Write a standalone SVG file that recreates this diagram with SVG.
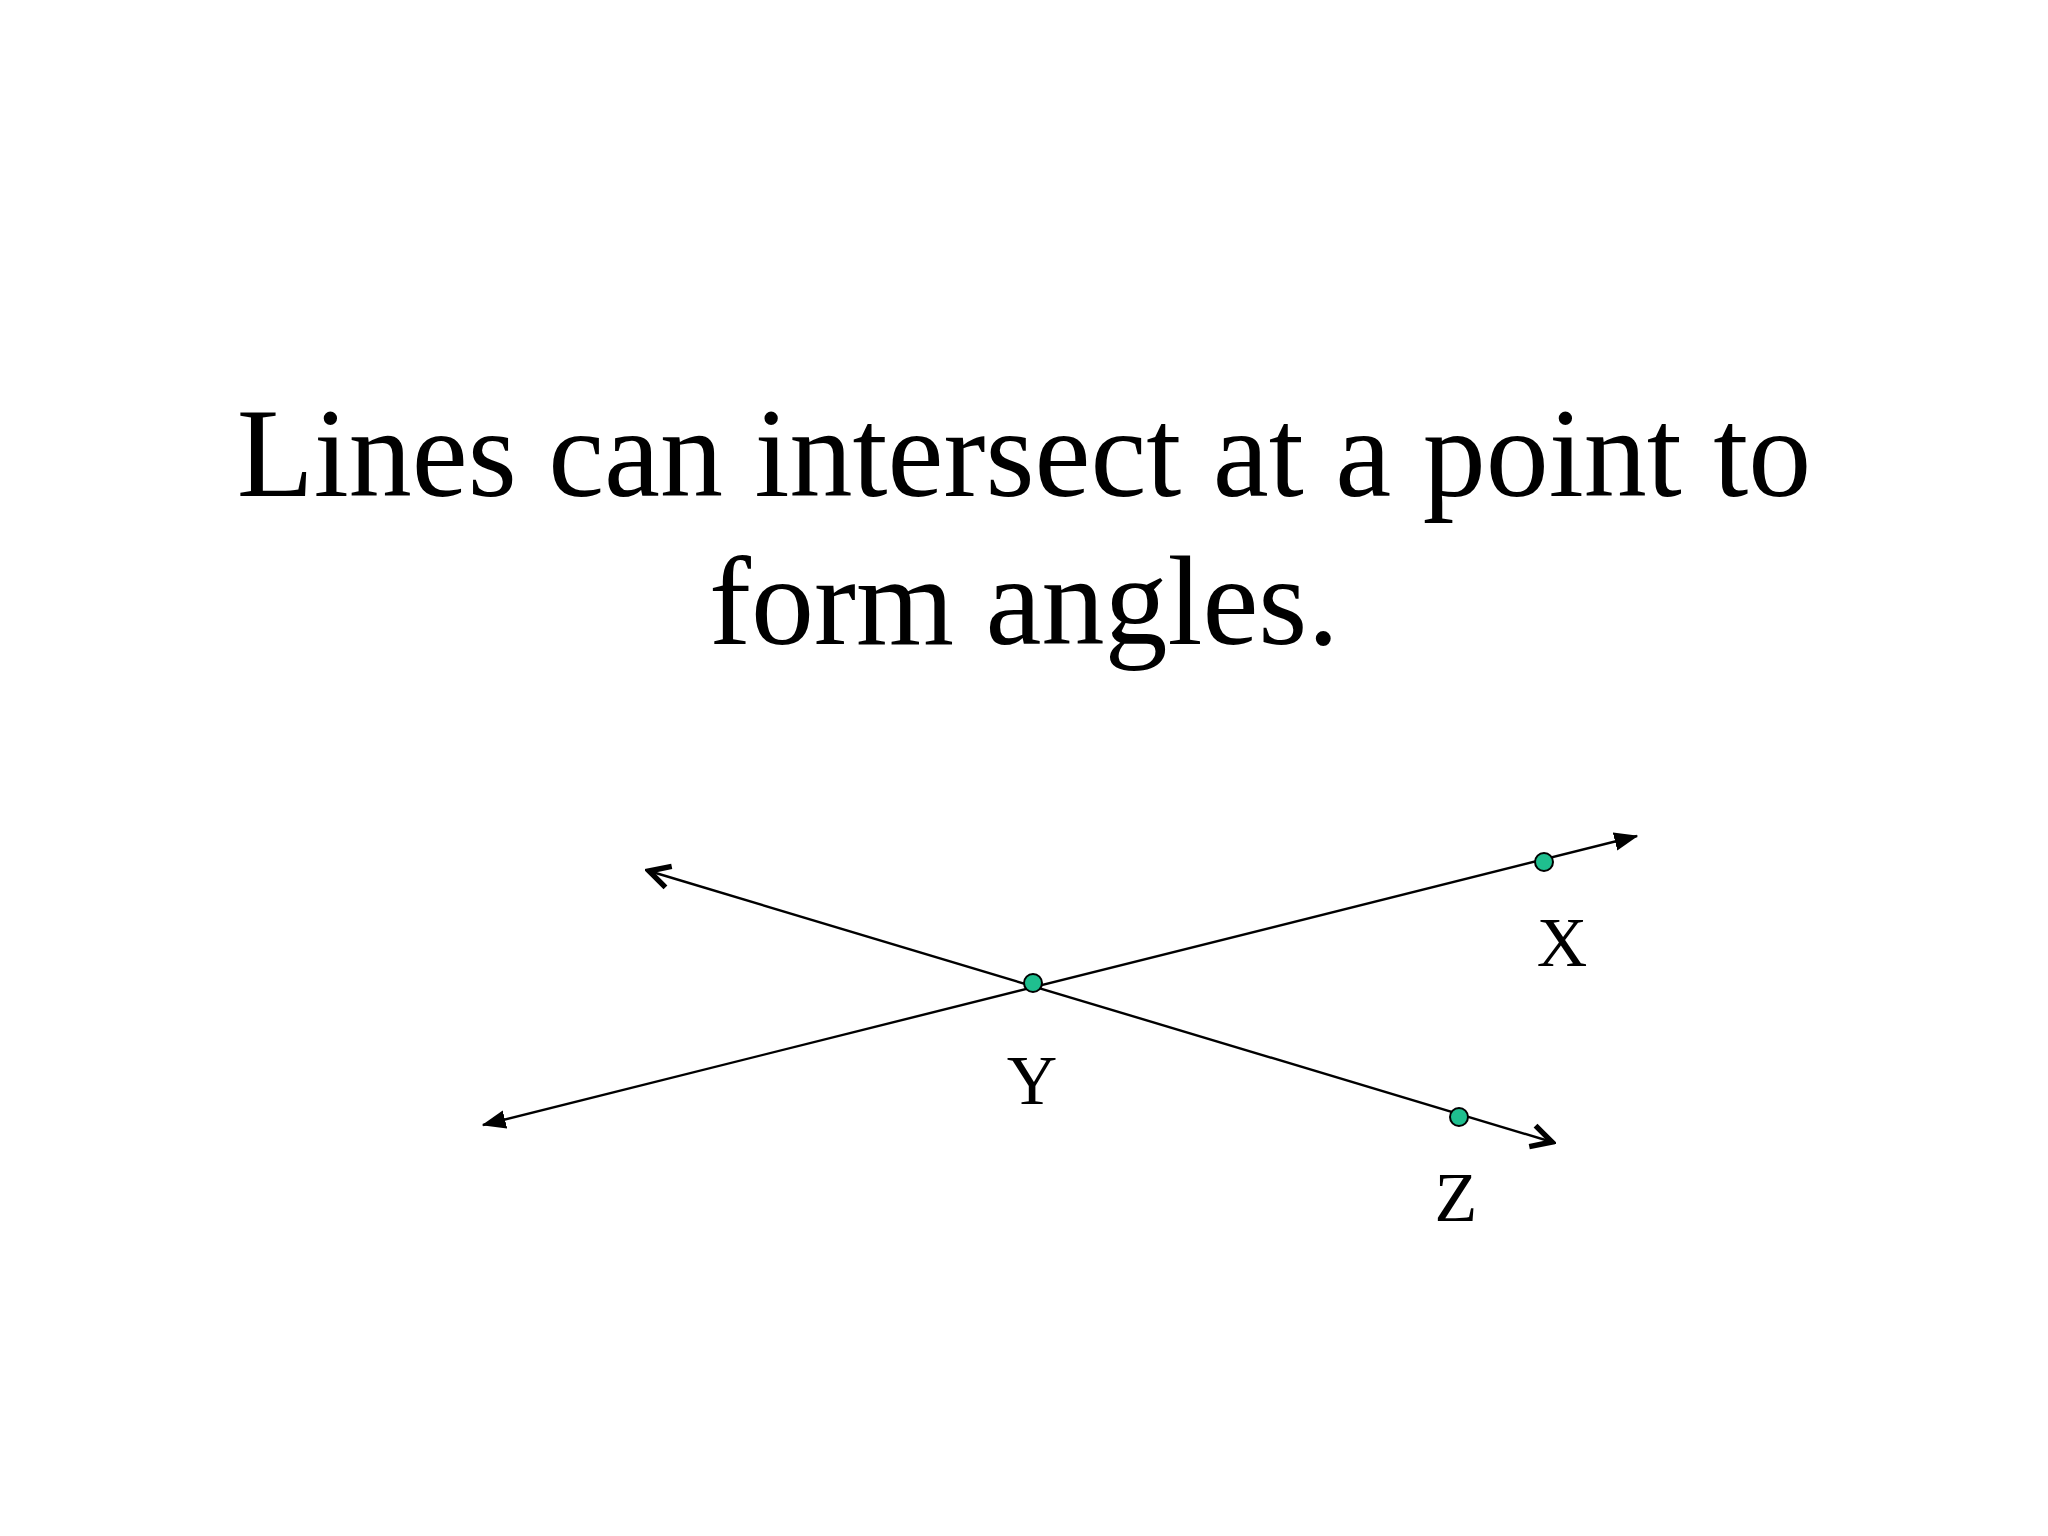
<svg xmlns="http://www.w3.org/2000/svg" width="2048" height="1536" viewBox="0 0 2048 1536">
<style>
.t{font-family:"Liberation Serif","Times New Roman",serif;fill:#000}
.ln{stroke:#000;stroke-width:2.4;fill:none}
.pt{fill:#1fbf8f;stroke:#000;stroke-width:2}
</style>
<defs>
<marker id="fa" markerUnits="userSpaceOnUse" markerWidth="24" markerHeight="20" viewBox="0 0 18 14" refX="17" refY="7" orient="auto-start-reverse">
<path d="M0,0 L18,7 L0,14 Z" fill="#000"/>
</marker>
<marker id="oa" markerUnits="userSpaceOnUse" markerWidth="30" markerHeight="30" viewBox="-2 -2 22 22" refX="17" refY="9" orient="auto-start-reverse">
<path d="M2,1 L17,9 L2,17" fill="none" stroke="#000" stroke-width="4"/>
</marker>
</defs>
<rect width="2048" height="1536" fill="#fff"/>
<g id="title">
<text class="t" x="1024" y="496" font-size="126" text-anchor="middle">Lines can intersect at a point to</text>
<text class="t" x="1024" y="644" font-size="126" text-anchor="middle">form angles.</text>
</g>
<g id="connectors">
<line class="ln" x1="483" y1="1125" x2="1637" y2="836" marker-start="url(#fa)" marker-end="url(#fa)"/>
<line class="ln" x1="649" y1="871" x2="1552" y2="1142" marker-start="url(#oa)" marker-end="url(#oa)"/>
</g>
<g id="node-Y">
<circle class="pt" cx="1033" cy="983" r="9"/>
<text class="t" x="1032" y="1104" font-size="70" text-anchor="middle">Y</text>
</g>
<g id="node-X">
<circle class="pt" cx="1544" cy="862" r="9"/>
<text class="t" x="1562" y="966" font-size="70" text-anchor="middle">X</text>
</g>
<g id="node-Z">
<circle class="pt" cx="1459" cy="1117" r="9"/>
<text class="t" x="1456" y="1221" font-size="70" text-anchor="middle">Z</text>
</g>
</svg>
